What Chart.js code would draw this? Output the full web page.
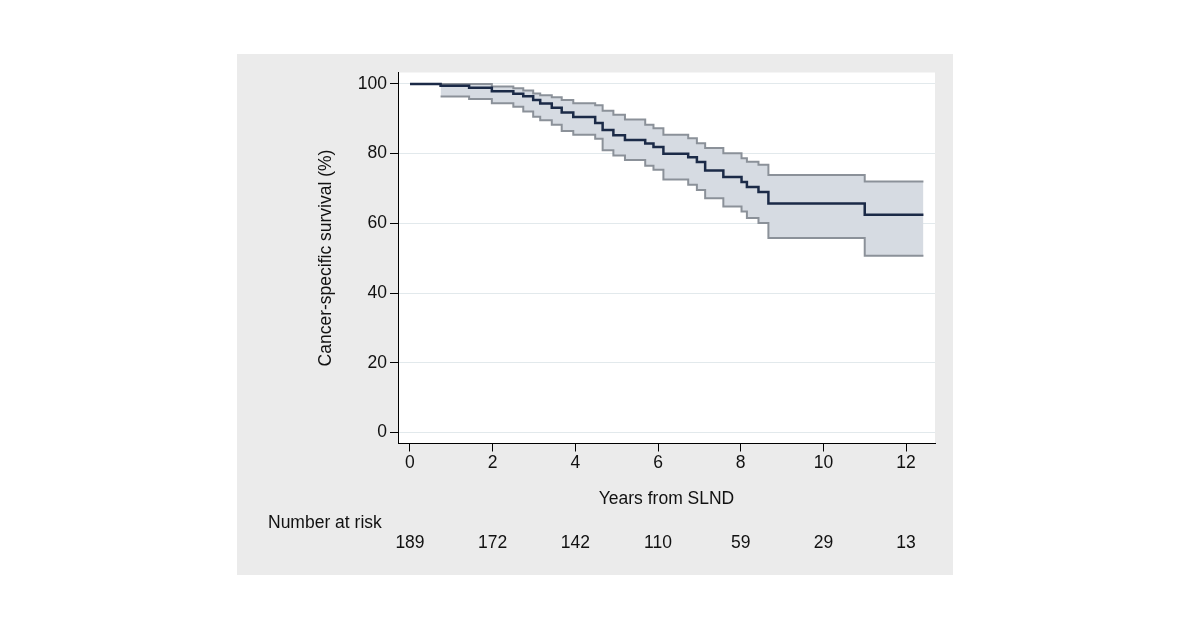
<!DOCTYPE html>
<html>
<head>
<meta charset="utf-8">
<script src="https://cdn.jsdelivr.net/npm/chart.js@4"></script>
<style>
  body { margin: 0; background: #fff; }
  .chart-box {
    position: absolute;
    left: 237px;
    top: 54px;
    width: 716px;
    height: 521px;
    background: #ebebeb;
  }
</style>
</head>
<body>
<div class="chart-box">
  <canvas id="kmChart" width="716" height="521"></canvas>
</div>
<script>
  // Kaplan-Meier estimate (years, %)
  const stepTimes = [0.74, 1.43, 1.98, 2.5, 2.74, 2.98, 3.15, 3.43, 3.67, 3.95, 4.48, 4.66, 4.92, 5.2,
    5.69, 5.89, 6.13, 6.73, 6.94, 7.14, 7.58, 8.02, 8.15, 8.43, 8.67, 11.0, 12.42];
  const survival = [99.5, 98.9, 97.9, 97.2, 96.5, 95.4, 94.4, 93.2, 91.8, 90.5, 88.8, 86.8, 85.3, 83.9,
    82.9, 81.9, 80.0, 79.0, 77.6, 75.2, 73.3, 71.9, 70.4, 69.0, 65.7, 62.5, 62.5];
  const upperCI = [100, 100, 99.3, 98.8, 98.1, 97.3, 96.8, 96.2, 95.4, 94.5, 93.9, 92.3, 91.2, 89.8,
    88.3, 87.3, 85.4, 84.4, 83.0, 81.6, 80.1, 78.7, 77.7, 76.8, 73.9, 72.0, 72.0];
  const lowerCI = [96.4, 95.7, 94.5, 93.5, 92.1, 90.6, 89.6, 88.3, 86.5, 85.4, 84.3, 81.0, 79.5, 78.2,
    76.5, 75.4, 72.6, 71.1, 69.6, 67.2, 64.8, 63.4, 61.5, 60.1, 55.8, 50.7, 50.7];

  const xTicks = [0, 2, 4, 6, 8, 10, 12];
  const yTicks = [0, 20, 40, 60, 80, 100];
  const riskTimes = [0, 2, 4, 6, 8, 10, 12];
  const atRisk = [189, 172, 142, 110, 59, 29, 13];

  const toPoints = (xs, ys) => xs.map((x, i) => ({ x: x, y: ys[i] }));

  Chart.defaults.font.family = '"Liberation Sans", Arial, Helvetica, sans-serif';
  Chart.defaults.font.size = 17.5;
  Chart.defaults.color = '#111';

  // white plot area on the grey panel
  const plotBackground = {
    id: 'plotBackground',
    beforeDraw(chart) {
      const { ctx, chartArea: a } = chart;
      ctx.save();
      ctx.fillStyle = '#ffffff';
      ctx.fillRect(a.left, a.top, a.right - a.left, a.bottom - a.top);
      ctx.restore();
    }
  };

  // "Number at risk" table under the axis
  const riskTable = {
    id: 'riskTable',
    afterDraw(chart) {
      const ctx = chart.ctx;
      const xs = chart.scales.x;
      ctx.save();
      ctx.font = '17.5px "Liberation Sans", Arial, sans-serif';
      ctx.fillStyle = '#111';
      ctx.textBaseline = 'middle';
      ctx.textAlign = 'left';
      ctx.fillText('Number at risk', 31, 469);
      ctx.textAlign = 'center';
      riskTimes.forEach((t, i) => {
        ctx.fillText(String(atRisk[i]), xs.getPixelForValue(t), 489.5);
      });
      ctx.restore();
    }
  };

  const ctx = document.getElementById('kmChart').getContext('2d');
  const kmChart = new Chart(ctx, {
    type: 'line',
    data: {
      datasets: [
        {
          label: 'Survival',
          data: [{ x: 0, y: 100 }].concat(toPoints(stepTimes, survival)),
          borderColor: '#1b2a47',
          borderWidth: 2.5,
          stepped: true,
          pointRadius: 0,
          fill: false
        },
        {
          label: 'Upper 95% CI',
          data: toPoints(stepTimes, upperCI),
          borderColor: '#8b9199',
          backgroundColor: '#d6dbe2',
          borderWidth: 2,
          stepped: true,
          pointRadius: 0,
          fill: '+1'
        },
        {
          label: 'Lower 95% CI',
          data: toPoints(stepTimes, lowerCI),
          borderColor: '#8b9199',
          borderWidth: 2,
          stepped: true,
          pointRadius: 0,
          fill: false
        }
      ]
    },
    options: {
      responsive: false,
      animation: false,
      layout: { padding: { left: 70, right: 18, top: 18.5, bottom: 61.5 } },
      plugins: {
        legend: { display: false },
        tooltip: { enabled: false },
        filler: { drawTime: 'beforeDatasetsDraw' }
      },
      scales: {
        x: {
          type: 'linear',
          min: -0.29,
          max: 12.7,
          afterBuildTicks: (s) => { s.ticks = xTicks.map(v => ({ value: v })); },
          afterFit: (s) => { s.height = 70; },
          ticks: { padding: 1, maxRotation: 0 },
          grid: { drawOnChartArea: false, tickLength: 8, tickColor: '#000' },
          border: { display: true, color: '#000', width: 1 },
          title: { display: true, text: 'Years from SLND', padding: { top: 0, bottom: 4 } }
        },
        y: {
          type: 'linear',
          min: -3.2,
          max: 103.3,
          afterBuildTicks: (s) => { s.ticks = yTicks.map(v => ({ value: v })); },
          afterFit: (s) => { s.width = 91; },
          ticks: { padding: 3 },
          grid: { color: '#e2e9ec', lineWidth: 1, tickLength: 8, tickColor: '#000' },
          border: { display: true, color: '#000', width: 1 },
          title: { display: true, text: 'Cancer-specific survival (%)', padding: { top: 8.5, bottom: 0 } }
        }
      }
    },
    plugins: [plotBackground, riskTable]
  });
</script>
</body>
</html>
